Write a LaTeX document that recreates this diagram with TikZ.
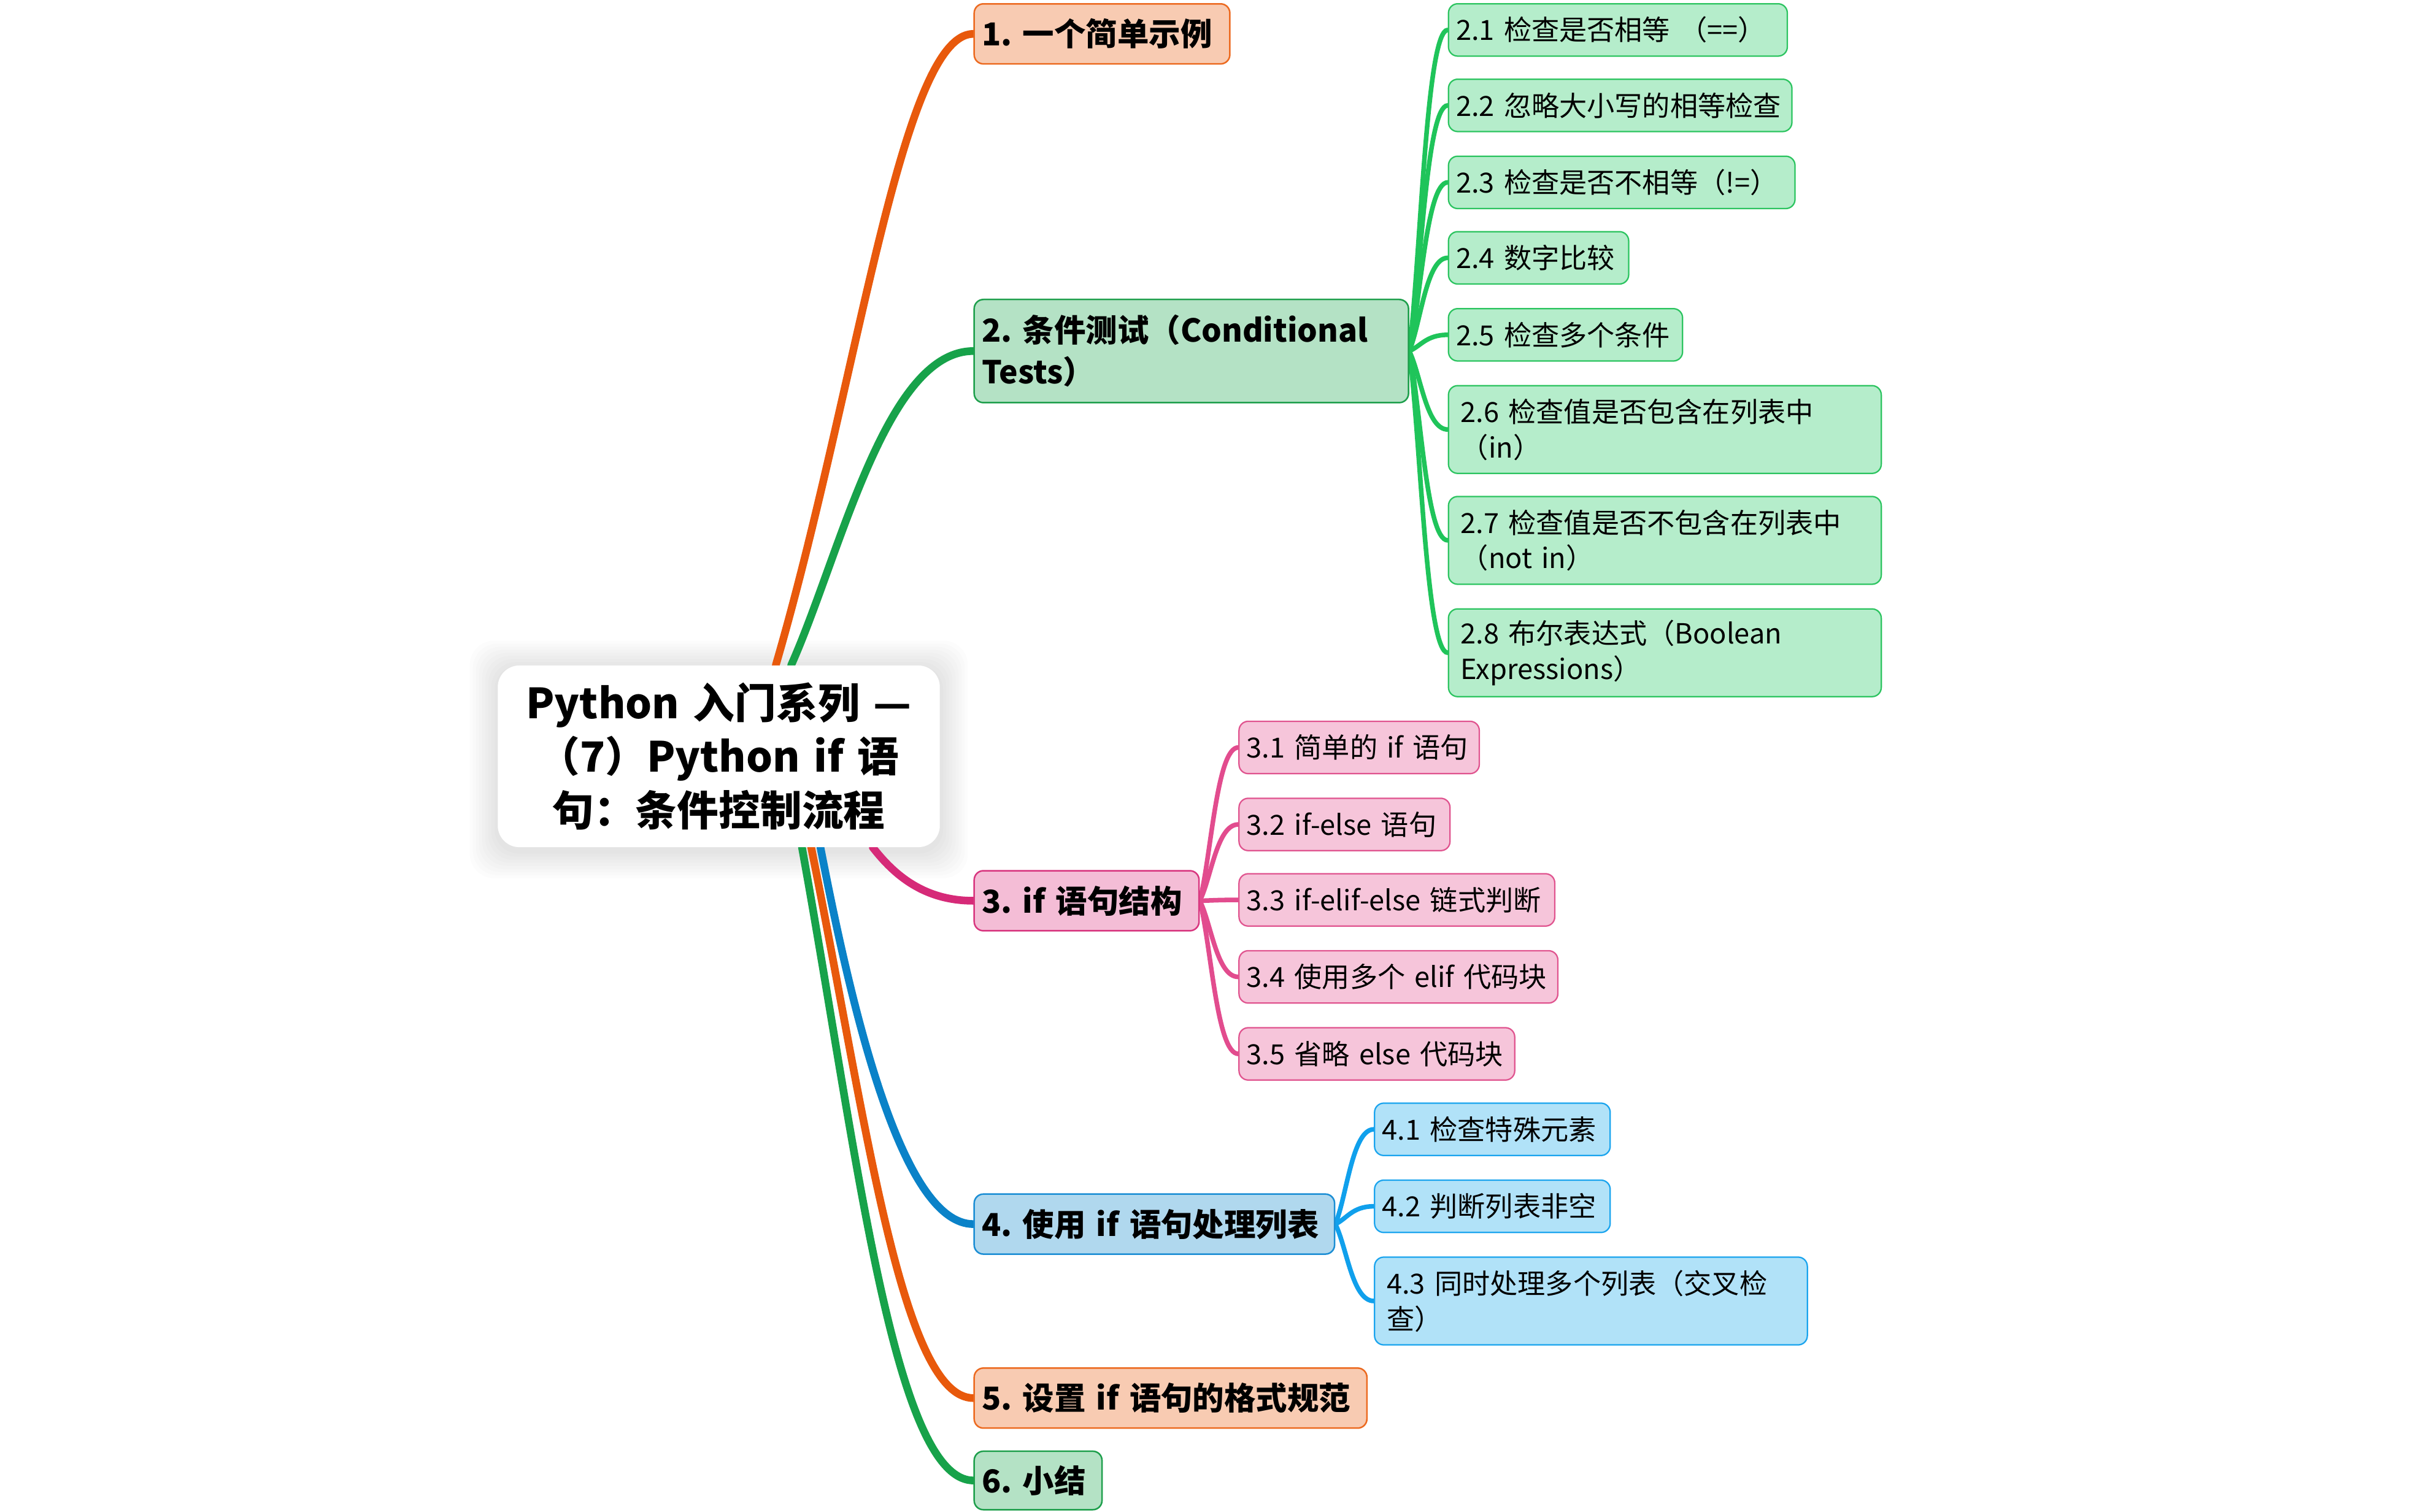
\documentclass[tikz,border=0pt]{standalone}
\usepackage{fontspec}
\setmainfont{Noto Sans CJK SC}
\frenchspacing
\usetikzlibrary{backgrounds,calc}

\definecolor{orangeline}{HTML}{E8590C}
\definecolor{orangefill}{HTML}{F8CBB2}
\definecolor{orangeedge}{HTML}{EC6A20}
\definecolor{greenline}{HTML}{17A24A}
\definecolor{greenfill}{HTML}{B4E2C5}
\definecolor{greenedge}{HTML}{1E9F4C}
\definecolor{lgreenline}{HTML}{1FC45A}
\definecolor{lgreenfill}{HTML}{B5EDCB}
\definecolor{lgreenedge}{HTML}{2CC460}
\definecolor{pinkline}{HTML}{D62A78}
\definecolor{pinkfill}{HTML}{F4BDD6}
\definecolor{pinkedge}{HTML}{D8367F}
\definecolor{lpinkline}{HTML}{E24C8E}
\definecolor{lpinkfill}{HTML}{F6C5DA}
\definecolor{lpinkedge}{HTML}{E0548F}
\definecolor{blueline}{HTML}{0A82C8}
\definecolor{bluefill}{HTML}{B0D8EE}
\definecolor{blueedge}{HTML}{1C8ED4}
\definecolor{lblueline}{HTML}{10A0EC}
\definecolor{lbluefill}{HTML}{B1E2F8}
\definecolor{lblueedge}{HTML}{1AA4EE}

\tikzset{
  box/.style={rounded corners=6pt, anchor=north west, align=left, inner ysep=1pt, line width=1pt},
  topic/.style={anchor=north west, fill=white, rounded corners=14pt, text width=271pt, align=center,
    inner xsep=8pt, minimum height=118pt, font=\fontsize{27}{35}\selectfont\bfseries},
  branch/.style={box, inner xsep=5pt, minimum height=39pt, font=\fontsize{20.5}{27}\selectfont\bfseries},
  leaf/.style={box, inner xsep=5pt, minimum height=34pt, line width=.9pt, font=\fontsize{18}{23}\selectfont},
  wide/.style={inner xsep=8pt, text width=265pt, minimum height=57pt},
  orangebox/.style={draw=orangeedge, fill=orangefill},
  greenbox/.style={draw=greenedge, fill=greenfill},
  pinkbox/.style={draw=pinkedge, fill=pinkfill},
  bluebox/.style={draw=blueedge, fill=bluefill},
  lgreenbox/.style={draw=lgreenedge, fill=lgreenfill},
  lpinkbox/.style={draw=lpinkedge, fill=lpinkfill},
  lbluebox/.style={draw=lblueedge, fill=lbluefill},
  trunk/.style={line width=5pt, line cap=round},
  twig/.style={line width=3pt, line cap=round}
}

\begin{document}
\begin{tikzpicture}[x=1pt, y=-1pt]
  \useasboundingbox (0,0) rectangle (1568,981.6);

  \node[topic] (root) at (323,432) {Python 入门系列 —\\（7）Python if 语\\句：条件控制流程};

  \node[branch, orangebox, text width=156pt] (b1) at (632,2) {1. 一个简单示例};
  \node[branch, greenbox, text width=272pt, minimum height=67pt] (b2) at (632,194) {2. 条件测试（Conditional\\Tests）};
  \node[branch, pinkbox, text width=136pt] (b3) at (632,565) {3. if 语句结构};
  \node[branch, bluebox, text width=224pt] (b4) at (632,775) {4. 使用 if 语句处理列表};
  \node[branch, orangebox, text width=245pt] (b5) at (632,888) {5. 设置 if 语句的格式规范};
  \node[branch, greenbox, text width=73pt, minimum height=38pt] (b6) at (632,942) {6. 小结};

  \node[leaf, lgreenbox, text width=210pt] (l21) at (940,2) {2.1 检查是否相等 （==）};
  \node[leaf, lgreenbox, text width=213pt] (l22) at (940,51) {2.2 忽略大小写的相等检查};
  \node[leaf, lgreenbox, text width=215pt] (l23) at (940,101) {2.3 检查是否不相等（!=）};
  \node[leaf, lgreenbox, text width=107pt] (l24) at (940,150) {2.4 数字比较};
  \node[leaf, lgreenbox, text width=142pt] (l25) at (940,200) {2.5 检查多个条件};
  \node[leaf, lgreenbox, wide] (l26) at (940,250) {2.6 检查值是否包含在列表中\\（in）};
  \node[leaf, lgreenbox, wide] (l27) at (940,322) {2.7 检查值是否不包含在列表中\\（not in）};
  \node[leaf, lgreenbox, wide] (l28) at (940,395) {2.8 布尔表达式（Boolean\\Expressions）};

  \node[leaf, lpinkbox, text width=146pt] (l31) at (804,468) {3.1 简单的 if 语句};
  \node[leaf, lpinkbox, text width=127pt] (l32) at (804,518) {3.2 if-else 语句};
  \node[leaf, lpinkbox, text width=195pt] (l33) at (804,567) {3.3 if-elif-else 链式判断};
  \node[leaf, lpinkbox, text width=197pt] (l34) at (804,617) {3.4 使用多个 elif 代码块};
  \node[leaf, lpinkbox, text width=169pt] (l35) at (804,667) {3.5 省略 else 代码块};

  \node[leaf, lbluebox, text width=143pt] (l41) at (892,716) {4.1 检查特殊元素};
  \node[leaf, lbluebox, text width=143pt] (l42) at (892,766) {4.2 判断列表非空};
  \node[leaf, lbluebox, wide] (l43) at (892,816) {4.3 同时处理多个列表（交叉检\\查）};

  \begin{scope}[on background layer]
    \foreach \g in {2,4,...,18}
      \fill[black, opacity=.01, rounded corners=16pt]
        ([shift={(-\g,-\g+2)}]root.north west) rectangle ([shift={(\g,\g+2)}]root.south east);

    \draw[trunk, orangeline] ([xshift=37pt]root.north) .. controls +(53,-182) and +(-47,0) .. (b1.west);
    \draw[trunk, greenline] ([xshift=47pt]root.north) .. controls +(32,-72) and +(-57,0) .. (b2.west);
    \draw[trunk, pinkline] ([xshift=100pt]root.south) .. controls +(14,18) and +(-32,0) .. (b3.west);
    \draw[trunk, blueline] ([xshift=66pt]root.south) .. controls +(20,103) and +(-47,0) .. (b4.west);
    \draw[trunk, orangeline] ([xshift=60pt]root.south) .. controls +(35,173) and +(-47,0) .. (b5.west);
    \draw[trunk, greenline] ([xshift=54pt]root.south) .. controls +(35,193) and +(-52,0) .. (b6.west);

    \foreach \n in {l21,l22,l23,l24,l25,l26,l27,l28}
      \draw[twig, lgreenline] (b2.east) .. controls ($(b2.east)!.3!(\n.west)$) and +(-14,0) .. (\n.west);
    \foreach \n in {l31,l32,l33,l34,l35}
      \draw[twig, lpinkline] (b3.east) .. controls ($(b3.east)!.3!(\n.west)$) and +(-14,0) .. (\n.west);
    \foreach \n in {l41,l42,l43}
      \draw[twig, lblueline] (b4.east) .. controls ($(b4.east)!.3!(\n.west)$) and +(-14,0) .. (\n.west);
  \end{scope}
\end{tikzpicture}
\end{document}
